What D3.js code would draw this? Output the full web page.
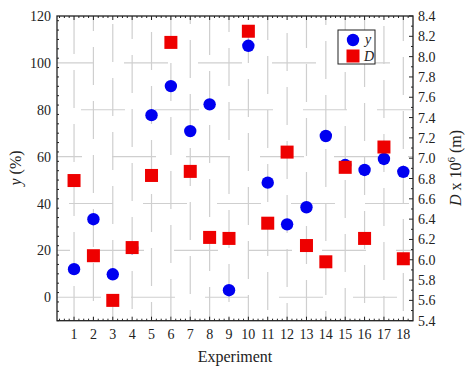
<!DOCTYPE html>
<html><head><meta charset="utf-8">
<script src="https://cdnjs.cloudflare.com/ajax/libs/d3/7.8.5/d3.min.js"></script>
<style>body{margin:0;background:#fff}svg{display:block}text{font-family:"Liberation Serif","Times New Roman",serif;fill:#222}</style>
</head><body>
<script>
const experiments = [1,2,3,4,5,6,7,8,9,10,11,12,13,14,15,16,17,18];
const yValues = [12,33.3,9.8,21,77.7,90.1,70.9,82.3,3,107.3,48.9,31.1,38.4,68.8,56.4,54.3,59,53.5];
const dValues = [6.78,6.04,5.60,6.12,6.83,8.14,6.87,6.22,6.21,8.25,6.36,7.06,6.14,5.98,6.91,6.21,7.11,6.01];
const yTicks = [0,20,40,60,80,100,120];
const dTicks = [5.4,5.6,5.8,6.0,6.2,6.4,6.6,6.8,7.0,7.2,7.4,7.6,7.8,8.0,8.2,8.4];

const W=474,H=379, L=57,R=413,T=16,B=320.7;
const svg=d3.select("body").append("svg").attr("width",W).attr("height",H);
const x=d3.scaleLinear().domain([0.12,18.5]).range([L,R]);
const y=d3.scaleLinear().domain([-10,120]).range([B,T]);
const yd=d3.scaleLinear().domain([5.4,8.4]).range([B,T]);

// broken grid
const g=svg.append("g").attr("stroke","#cfcfcf").attr("stroke-width",1.2).attr("fill","none");
experiments.forEach((e,i)=>{
  g.append("line").attr("x1",x(e)).attr("x2",x(e)).attr("y1",T).attr("y2",B)
   .attr("stroke-dasharray","38,16").attr("stroke-dashoffset",(i*23)%54);
});
[0,20,40,60,80,100].forEach((v,i)=>{
  g.append("line").attr("x1",L).attr("x2",R).attr("y1",y(v)).attr("y2",y(v))
   .attr("stroke-dasharray","44,30").attr("stroke-dashoffset",(i*31)%74);
});

// frame
svg.append("rect").attr("x",L).attr("y",T).attr("width",R-L).attr("height",B-T)
  .attr("fill","none").attr("stroke","#222").attr("stroke-width",1.3);

// ticks
const tk=svg.append("g").attr("stroke","#222").attr("stroke-width",1);
d3.range(0.25,18.5,0.25).forEach(v=>{
  const major=Math.abs(v-Math.round(v))<1e-6;
  const len=major?4:2;
  tk.append("line").attr("x1",x(v)).attr("x2",x(v)).attr("y1",B).attr("y2",B-len);
  tk.append("line").attr("x1",x(v)).attr("x2",x(v)).attr("y1",T).attr("y2",T+len);
});
d3.range(-10,120.1,4).forEach(v=>{
  const major=v%20===0;
  const len=major?4:2;
  tk.append("line").attr("x1",L).attr("x2",L+len).attr("y1",y(v)).attr("y2",y(v));
});
d3.range(5.4,8.41,0.1).forEach(v=>{
  const major=Math.abs(v*5-Math.round(v*5))<1e-6;
  const len=major?4:2;
  tk.append("line").attr("x1",R).attr("x2",R-len).attr("y1",yd(v)).attr("y2",yd(v));
});

// tick labels
svg.append("g").selectAll("text").data(experiments).join("text")
  .attr("x",d=>x(d)).attr("y",339).attr("text-anchor","middle").attr("font-size",14).text(d=>d);
svg.append("g").selectAll("text").data(yTicks).join("text")
  .attr("x",51).attr("y",d=>y(d)+5).attr("text-anchor","end").attr("font-size",14).text(d=>d);
svg.append("g").selectAll("text").data(dTicks).join("text")
  .attr("x",418).attr("y",d=>yd(d)+5).attr("text-anchor","start").attr("font-size",14).text(d=>d.toFixed(1));

// axis titles
svg.append("text").attr("x",(L+R)/2).attr("y",362).attr("text-anchor","middle").attr("font-size",16).text("Experiment");
const lt=svg.append("text").attr("transform","translate(21,168) rotate(-90)").attr("text-anchor","middle").attr("font-size",16);
lt.append("tspan").attr("font-style","italic").text("y");
lt.append("tspan").text(" (%)");
const rt=svg.append("text").attr("transform","translate(461,168) rotate(-90)").attr("text-anchor","middle").attr("font-size",16);
rt.append("tspan").attr("font-style","italic").text("D");
rt.append("tspan").text(" x 10");
rt.append("tspan").attr("font-size",11).attr("dy",-6).text("6");
rt.append("tspan").attr("dy",6).text(" (m)");

// markers
svg.append("g").selectAll("circle").data(experiments).join("circle")
  .attr("cx",d=>x(d)).attr("cy",(d,i)=>y(yValues[i])).attr("r",6.2).attr("fill","#0000f0");
svg.append("g").selectAll("rect").data(experiments).join("rect")
  .attr("x",d=>x(d)-6.5).attr("y",(d,i)=>yd(dValues[i])-6.5).attr("width",13).attr("height",13).attr("fill","#ee0000");

// legend
const lg=svg.append("g");
lg.append("rect").attr("x",338).attr("y",30).attr("width",37).attr("height",34).attr("fill","#fff").attr("stroke","#222").attr("stroke-width",1);
lg.append("circle").attr("cx",353).attr("cy",40).attr("r",6.2).attr("fill","#0000f0");
lg.append("rect").attr("x",346.5).attr("y",49.5).attr("width",13).attr("height",13).attr("fill","#ee0000");
lg.append("text").attr("x",365).attr("y",44).attr("font-size",14).attr("font-style","italic").text("y");
lg.append("text").attr("x",364).attr("y",61).attr("font-size",14).attr("font-style","italic").text("D");
</script>
</body></html>
